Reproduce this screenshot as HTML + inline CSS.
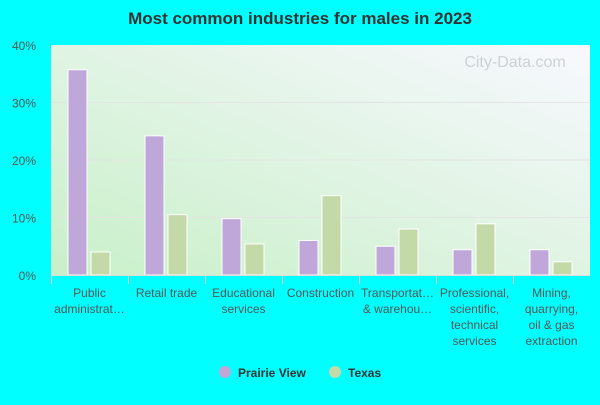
<!DOCTYPE html>
<html><head><meta charset="utf-8"><style>
body{margin:0;background:#00ffff;width:600px;height:400px;overflow:hidden;font-family:"Liberation Sans",sans-serif}
</style></head><body>
<svg id="c" width="600" height="400" xmlns="http://www.w3.org/2000/svg">
<defs>
<linearGradient id="bg" x1="0" y1="1" x2="1" y2="0">
<stop offset="0" stop-color="#c8f0c8"/><stop offset="1" stop-color="#f8f8ff"/>
</linearGradient>
</defs>
<text x="300" y="24" text-anchor="middle" font-size="17" font-weight="bold" fill="#333">Most common industries for males in 2023</text>
<rect x="51" y="45" width="539" height="230" fill="url(#bg)"/>
<text x="515" y="67" text-anchor="middle" font-size="16" fill="#c4c8cc" opacity="0.8">City-Data.com</text>
<g id="grid"></g><g id="bars"></g><g id="axes"></g>
<g>
<circle cx="225" cy="372" r="6" fill="#bfa8d9"/>
<text x="238" y="377" font-size="12" font-weight="bold" fill="#333">Prairie View</text>
<circle cx="335" cy="372" r="6" fill="#c4d9a8"/>
<text x="348" y="377" font-size="12" font-weight="bold" fill="#333">Texas</text>
</g>
</svg>
<script>
const categories=[["Public","administrat…"],["Retail trade"],["Educational","services"],["Construction"],["Transportat…","& warehou…"],["Professional,","scientific,","technical","services"],["Mining,","quarrying,","oil & gas","extraction"]];
const prairieView=[35.7,24.2,9.8,6.0,5.0,4.4,4.4];
const texas=[4.0,10.5,5.4,13.8,8.0,8.9,2.3];
const yTicks=[0,10,20,30,40];
const NS="http://www.w3.org/2000/svg";
const L=51,T=45,B=275,W=77;
const y=v=>B-(v/40)*(B-T);
const x=i=>L+i*W;
function mk(t,a,p){const e=document.createElementNS(NS,t);for(const k in a)e.setAttribute(k,a[k]);p.appendChild(e);return e;}
const grid=document.getElementById('grid'),bars=document.getElementById('bars'),axes=document.getElementById('axes');
yTicks.forEach(v=>{
 if(v>0&&v<40){const g=mk('line',{x1:L,x2:590,y1:y(v),y2:y(v),stroke:'#e4e4e4'},grid);
 
 }
 const t=mk('text',{x:36,y:y(v)+5,'text-anchor':'end','font-size':12,fill:'#555'},axes);t.textContent=v+'%';
 
 
});
mk('line',{x1:L,x2:590,y1:B+0.5,y2:B+0.5,stroke:'#ddd'},axes);
categories.forEach((c,i)=>{
 const b1=mk('rect',{x:x(i)+17,y:y(prairieView[i]),width:19,height:B-y(prairieView[i]),fill:'#bfa8d9',stroke:'#fff','stroke-width':1},bars);
 
 
 const b2=mk('rect',{x:x(i)+40,y:y(texas[i]),width:19,height:B-y(texas[i]),fill:'#c4d9a8',stroke:'#fff','stroke-width':1},bars);
 
 
 const tk=mk('line',{x1:x(i)+0.5,x2:x(i)+0.5,y1:B,y2:B+9,stroke:'#ddd'},axes);
 
 
 c.forEach((s,j)=>{const t=mk('text',{x:x(i)+W/2,y:297+j*16,'text-anchor':'middle','font-size':12,fill:'#555'},axes);t.textContent=s;
 
 });
});
</script>
</body></html>
